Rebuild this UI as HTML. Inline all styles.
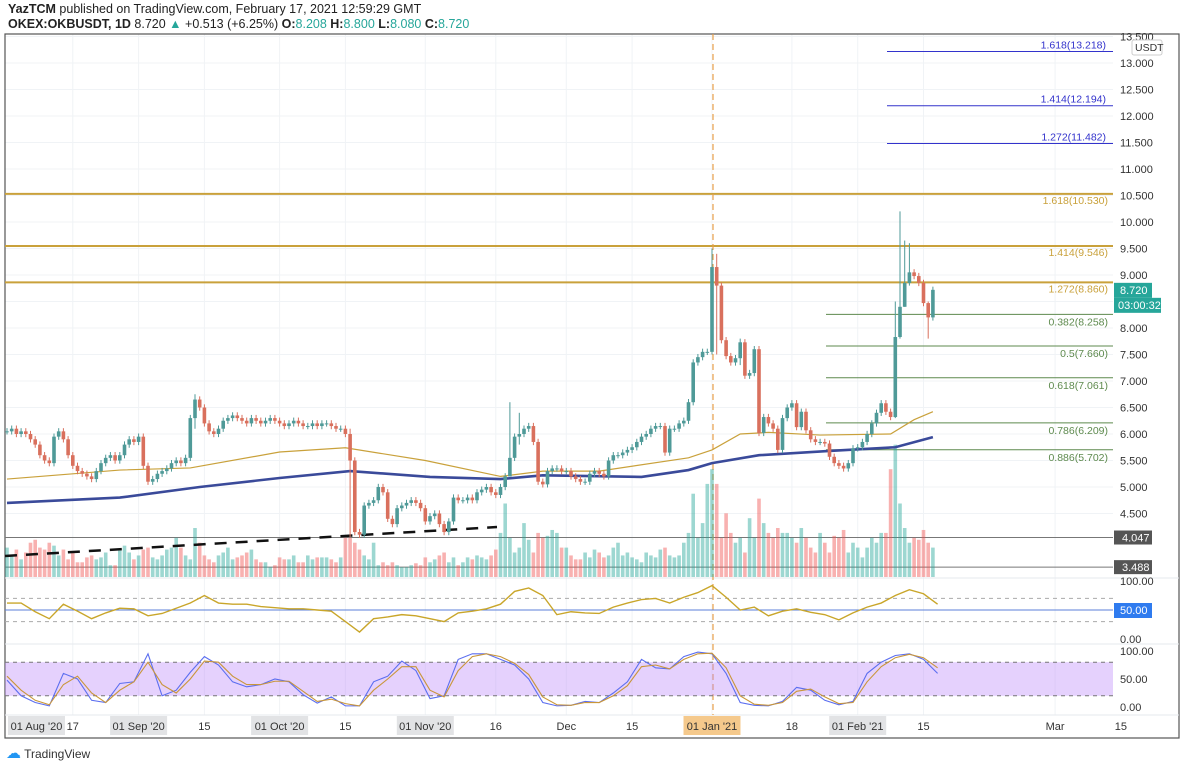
<!DOCTYPE html>
<html><head><meta charset="utf-8"><style>
body{margin:0;width:1185px;height:768px;background:#fff;font-family:"Liberation Sans",sans-serif;overflow:hidden;position:relative}
.hd{position:absolute;left:8px;font-size:12.5px;color:#222}
</style></head><body>
<div class="hd" style="top:2px"><b>YazTCM</b> published on TradingView.com, February 17, 2021 12:59:29 GMT</div>
<div class="hd" style="top:17px"><b>OKEX:OKBUSDT, 1D</b> 8.720 <span style="color:#26a69a">▲</span> +0.513 (+6.25%) <b>O:</b><span style="color:#26a69a">8.208</span> <b>H:</b><span style="color:#26a69a">8.800</span> <b>L:</b><span style="color:#26a69a">8.080</span> <b>C:</b><span style="color:#26a69a">8.720</span></div>
<svg id="c" width="1185" height="768" style="position:absolute;left:0;top:0"></svg>
<div style="position:absolute;left:6px;top:744px;font-size:12px;color:#333"><span style="color:#2196f3;font-size:15px">☁</span> TradingView</div>
<script>
const closes=[6.05,6.1,6.0,6.05,6.0,5.9,5.8,5.6,5.5,
5.45,5.95,6.05,5.9,5.6,5.4,5.3,
5.25,5.2,5.15,5.3,5.45,5.55,5.6,5.5,5.6,
5.8,5.9,5.85,5.95,
5.4,5.1,5.15,5.25,5.3,5.35,5.45,5.5,5.45,5.55,
6.3,6.65,6.5,6.2,6.05,6.0,6.1,6.25,6.3,6.35,
6.3,6.25,6.2,6.3,6.25,6.2,6.25,6.3,6.25,6.2,6.15,6.2,6.25,
6.2,6.15,6.15,6.2,6.15,6.2,6.2,6.15,6.1,6.1,6.0,5.5,
4.15,4.1,4.65,4.7,4.75,5.0,4.9,4.4,
4.3,4.6,4.65,4.7,4.75,4.7,4.6,4.35,4.45,4.5,4.3,4.15,4.35,
4.8,4.75,4.75,4.8,4.75,4.9,4.95,5.0,4.9,4.85,5.0,5.2,
5.55,5.95,6.0,6.1,6.15,5.85,
5.1,5.05,5.3,5.35,5.35,5.3,5.3,5.2,5.15,5.1,
5.1,5.25,5.3,5.25,5.2,5.5,5.6,
5.6,5.65,5.7,5.75,5.85,5.95,6.0,6.1,6.15,6.15,5.65,6.1,6.1,6.2,6.25,
6.6,7.35,7.45,7.55,7.55,9.15,
8.8,7.77,7.47,7.35,7.43,7.73,7.1,7.15,7.6,6.02,
6.32,6.2,6.1,5.7,6.3,6.5,6.58,6.13,6.42,6.07,
5.9,5.85,5.85,5.82,5.57,5.45,5.4,5.35,5.45,5.73,
5.75,5.85,6.0,6.2,6.4,6.58,6.42,6.32,7.83,8.4,
8.85,9.05,8.98,8.85,8.47,8.2,8.72];
const wickIdx=[40,73,107,109,150,151,156,189,190,191,192,196];
const wickHigh=[6.75,6.1,6.6,6.4,9.5,9.4,7.8,8.5,10.2,9.65,9.6,8.5];
const wickLow=[6.1,4.05,5.9,5.8,7.5,7.5,7.3,6.3,7.8,8.5,8.8,7.8];
const volumes=[30,22,28,18,25,35,38,30,28,35,32,22,28,18,25,15,15,20,22,18,20,25,12,12,28,32,25,18,22,28,30,20,18,22,28,30,40,30,22,18,50,35,22,18,15,22,25,30,18,20,22,25,28,18,15,15,10,12,20,18,18,22,15,15,22,18,20,20,20,18,15,20,40,40,35,28,22,18,35,12,15,12,15,12,10,10,12,14,12,20,15,18,22,25,15,20,12,15,20,18,22,20,18,22,28,45,75,40,25,30,55,38,25,45,40,42,48,45,30,30,22,18,18,25,20,28,25,20,22,30,35,22,25,20,18,15,25,22,20,28,30,22,20,22,35,45,85,40,55,95,110,95,40,65,45,35,40,25,60,40,80,55,45,40,50,45,45,40,35,50,40,30,25,45,35,25,42,40,48,25,35,30,20,30,40,35,45,45,110,135,75,50,35,40,38,48,35,30];
const ma100Idx=[0,24,39,58,72,89,105,114,126,145,150,156,162,173,188,193,197];
const ma100Val=[5.15,5.32,5.36,5.66,5.74,5.5,5.2,5.3,5.3,5.55,5.7,6.0,6.03,5.98,6.0,6.27,6.42];
const ma200Idx=[0,24,41,58,73,90,105,114,135,145,150,160,175,189,197];
const ma200Val=[4.7,4.8,5.0,5.17,5.3,5.19,5.15,5.22,5.19,5.32,5.45,5.6,5.68,5.75,5.94];
const rsiVals=[62,62,47,35,60,48,35,45,53,52,40,44,53,62,75,62,60,60,56,54,52,52,50,48,30,12,35,38,42,40,35,30,45,48,52,60,82,88,75,42,47,45,44,55,62,68,70,62,72,80,92,72,50,55,40,48,52,46,42,33,45,55,62,75,85,78,60];
const stochK=[48,20,8,2,60,50,12,8,42,45,95,20,30,62,90,75,45,36,40,50,45,22,7,18,2,2,45,55,82,65,15,20,85,95,95,85,75,50,8,2,3,10,8,25,45,85,70,68,90,98,95,60,8,3,2,10,35,30,12,4,10,60,80,92,95,85,60];
const stochD=[55,30,12,4,40,55,25,8,30,45,80,40,25,50,82,80,55,40,40,46,46,28,10,14,6,2,30,50,72,72,30,18,65,90,95,90,78,58,18,4,3,8,8,20,38,72,75,68,85,95,96,70,20,5,3,8,28,32,18,6,8,45,72,88,94,88,70];
const priceTicks=[13.5,13,12.5,12,11.5,11,10.5,10,9.5,9,8.5,8,7.5,7,6.5,6,5.5,5,4.5];
const fibGold=[10.53,9.546,8.86],fibGoldLbl=["1.618(10.530)","1.414(9.546)","1.272(8.860)"];
const fibBlue=[13.218,12.194,11.482],fibBlueLbl=["1.618(13.218)","1.414(12.194)","1.272(11.482)"];
const fibGreen=[8.258,7.66,7.061,6.209,5.702],fibGreenLbl=["0.382(8.258)","0.5(7.660)","0.618(7.061)","0.786(6.209)","0.886(5.702)"];
const timeLabels=["01 Aug '20","17","01 Sep '20","15","01 Oct '20","15","01 Nov '20","16","Dec","15","01 Jan '21","18","01 Feb '21","15","Mar","15"];
const timeIdx=[-3,14,28,42,58,72,89,104,119,133,150,167,181,195,223,237];
const timeBoxed=[1,0,1,0,1,0,1,0,0,0,2,0,1,0,0,0];

const svg=document.getElementById('c');const NS='http://www.w3.org/2000/svg';
function mk(t,a,p){const e=document.createElementNS(NS,t);for(const k in a)e.setAttribute(k,a[k]);(p||svg).appendChild(e);return e;}
const X=i=>7+4.7*i, Y=p=>63+(13-p)*53, YR=v=>639-v*0.58, YS=v=>707-v*0.56, YV=v=>577-v*0.98;
const L=5,R=1113;
priceTicks.forEach(p=>{const g=mk('line',{x1:L,x2:R,y1:Y(p),y2:Y(p),stroke:'#f0f3f6'});});
timeIdx.forEach(i=>{if(X(i)>L&&X(i)<R){const g=mk('line',{x1:X(i),x2:X(i),y1:34,y2:715,stroke:'#f0f3f6'});}});
const fr=mk('rect',{x:5,y:34,width:1174,height:704,fill:'none',stroke:'#555','stroke-width':1.2});

[[578],[644],[715]].forEach(([y])=>{const s=mk('line',{x1:L,x2:1179,y1:y,y2:y,stroke:'#e6e9ee'});});
fibGold.forEach((p,k)=>{const l=mk('line',{x1:L,x2:R,y1:Y(p),y2:Y(p),stroke:'#c9a13b','stroke-width':2});
const t=mk('text',{x:1108,y:Y(p)+10,'text-anchor':'end','font-size':10.5,fill:'#c9a13b'});t.textContent=fibGoldLbl[k];});
fibBlue.forEach((p,k)=>{const l=mk('line',{x1:887,x2:R,y1:Y(p),y2:Y(p),stroke:'#3333cc','stroke-width':1});
const t=mk('text',{x:1106,y:Y(p)-3,'text-anchor':'end','font-size':10.5,fill:'#3333cc'});t.textContent=fibBlueLbl[k];});
fibGreen.forEach((p,k)=>{const l=mk('line',{x1:826,x2:R,y1:Y(p),y2:Y(p),stroke:'#5e8a4e','stroke-width':1});
const t=mk('text',{x:1108,y:Y(p)+11,'text-anchor':'end','font-size':10.5,fill:'#5e8a4e'});t.textContent=fibGreenLbl[k];});
[[4.047,'4.047'],[3.488,'3.488']].forEach(([p,s])=>{const l=mk('line',{x1:L,x2:R,y1:Y(p),y2:Y(p),stroke:'#777'});
const b=mk('rect',{x:1114,y:Y(p)-7,width:38,height:14,fill:'#555'});
const t=mk('text',{x:1122,y:Y(p)+4,'font-size':11,fill:'#fff'});t.textContent=s;});
const vd=mk('line',{x1:713,x2:713,y1:34,y2:715,stroke:'#e8a04a','stroke-dasharray':'6,4','stroke-width':1.2});
volumes.forEach((v,i)=>{const o=i?closes[i-1]:closes[0];const up=closes[i]>=o;
const r=mk('rect',{x:X(i)-1.8,y:YV(v),width:3.6,height:577-YV(v),fill:up?'rgba(38,166,154,0.45)':'rgba(239,83,80,0.45)'});});
const tl=mk('line',{x1:5,y1:556,x2:497,y2:527,stroke:'#111','stroke-width':2.5,'stroke-dasharray':'12,9'});
function ma(idx,val,col,w,n){const d=idx.map((i,k)=>(k?'L':'M')+X(i)+','+Y(val[k])).join('');const p=mk('path',{d,fill:'none',stroke:col,'stroke-width':w});}
ma(ma100Idx,ma100Val,'#c9a13b',1.2,'ma-100-line');
ma(ma200Idx,ma200Val,'#3a4a9a',2.6,'ma-200-line');
closes.forEach((c,i)=>{const o=i?closes[i-1]:c;const up=c>=o;const col=up?'#4f9a98':'#d9705d';
let hi=Math.max(o,c)+0.06,lo=Math.min(o,c)-0.06;const w=wickIdx.indexOf(i);if(w>=0){hi=Math.max(wickHigh[w],Math.max(o,c));lo=Math.min(wickLow[w],Math.min(o,c));}
const wk=mk('line',{x1:X(i),x2:X(i),y1:Y(hi),y2:Y(lo),stroke:col,'stroke-width':1});
const b=mk('rect',{x:X(i)-1.8,y:Y(Math.max(o,c)),width:3.6,height:Math.max(1,Math.abs(Y(o)-Y(c))),fill:col});});
priceTicks.forEach(p=>{const t=mk('text',{x:1120,y:Y(p)+4,'font-size':11,fill:'#333'});t.textContent=p.toFixed(3);});
const ub=mk('rect',{x:1132,y:40,width:30,height:15,rx:2,fill:'#fff',stroke:'#ccc'});
const ut=mk('text',{x:1135,y:51,'font-size':10.5,fill:'#333'});ut.textContent='USDT';
const lb=mk('rect',{x:1114,y:Y(8.72)-7,width:38,height:15,fill:'#26a69a'});
const lt=mk('text',{x:1120,y:Y(8.72)+4,'font-size':11,fill:'#fff'});lt.textContent='8.720';
const cb=mk('rect',{x:1114,y:Y(8.72)+8,width:47,height:15,fill:'#26a69a'});
const ct=mk('text',{x:1118,y:Y(8.72)+19,'font-size':11,fill:'#fff'});ct.textContent='03:00:32';
[70,30].forEach(v=>{const l=mk('line',{x1:L,x2:R,y1:YR(v),y2:YR(v),stroke:'#aaa','stroke-dasharray':'4,4'});});
const r50=mk('line',{x1:L,x2:R,y1:YR(50),y2:YR(50),stroke:'#5b7fd8'});
const rp=mk('path',{d:rsiVals.map((v,k)=>(k?'L':'M')+X(3*k)+','+YR(v)).join(''),fill:'none',stroke:'#c9a62a','stroke-width':1.4});
[[100,'100.00'],[0,'0.00']].forEach(([v,s])=>{const t=mk('text',{x:1120,y:YR(v)+4,'font-size':11,fill:'#333'});t.textContent=s;});
const rb=mk('rect',{x:1114,y:YR(50)-7,width:38,height:15,fill:'#2f7bef'});
const rt=mk('text',{x:1120,y:YR(50)+4,'font-size':11,fill:'#fff'});rt.textContent='50.00';
const band=mk('rect',{x:L,y:YS(80),width:R-L,height:YS(20)-YS(80),fill:'rgba(190,140,250,0.4)'});
[80,20].forEach(v=>{const l=mk('line',{x1:L,x2:R,y1:YS(v),y2:YS(v),stroke:'#777','stroke-dasharray':'4,4'});});
const kp=mk('path',{d:stochK.map((v,k)=>(k?'L':'M')+X(3*k)+','+YS(v)).join(''),fill:'none',stroke:'#5b6ef0','stroke-width':1.1});
const dp=mk('path',{d:stochD.map((v,k)=>(k?'L':'M')+X(3*k)+','+YS(v)).join(''),fill:'none',stroke:'#c9963a','stroke-width':1.1});
[[100,'100.00'],[50,'50.00'],[0,'0.00']].forEach(([v,s])=>{const t=mk('text',{x:1120,y:YS(v)+4,'font-size':11,fill:'#333'});t.textContent=s;});
timeLabels.forEach((s,k)=>{let x=X(timeIdx[k]);const w=s.length*5.2+5;if(timeBoxed[k]){x=Math.max(x,8+w/2);
const b=mk('rect',{x:x-w/2,y:716,width:w,height:19,fill:timeBoxed[k]==2?'#f5c98c':'#e2e3e5'});}
const t=mk('text',{x,y:730,'text-anchor':'middle','font-size':11,fill:'#333'});t.textContent=s;});
</script>
</body></html>
